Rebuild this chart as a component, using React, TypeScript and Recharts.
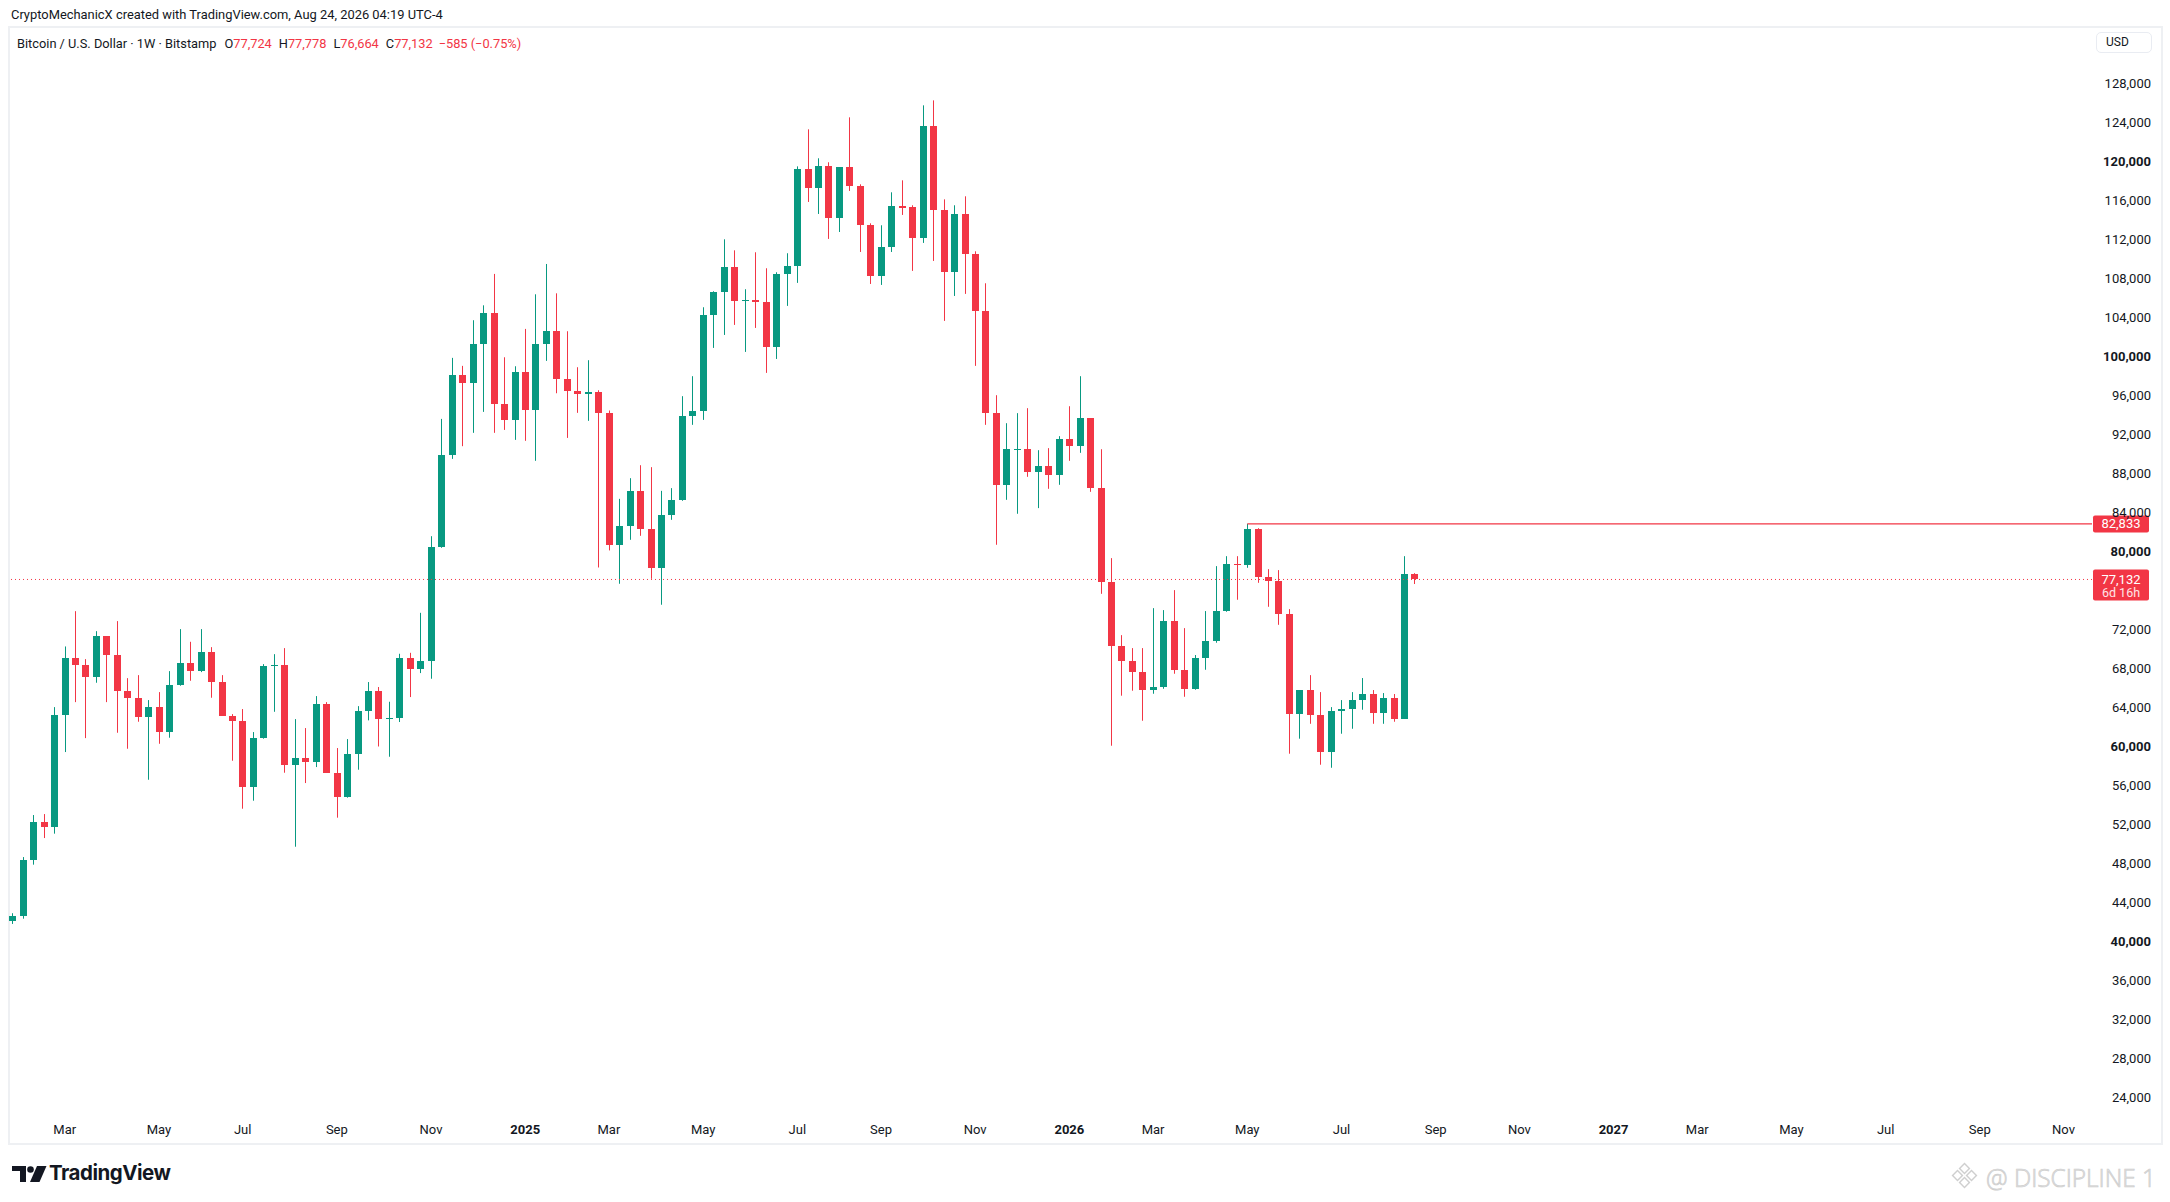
import React from 'react';
import { ComposedChart, Bar, XAxis, YAxis, ReferenceLine } from 'recharts';

const GREEN = '#089981';
const RED = '#F23645';
const TEXT = '#131722';
const FONT = 'Roboto, "Noto Sans", sans-serif';

// first weekly candle (Monday) shown
const FIRST_WEEK = '2024-01-29';

const opens = [
  42070, 42580, 48340, 52250, 51740, 63200, 69060, 68380, 67150, 71320,
  69400, 65720, 65000, 63050, 64040, 61510, 66300, 68550, 67770, 69680,
  66640, 63150, 62640, 55870, 60860, 68280, 68330, 58130, 58810, 58440,
  64350, 57310, 54850, 59190, 63600, 65690, 62850, 62950, 69070, 67970,
  68760, 80450, 89880, 98110, 97290, 101290, 104470, 95140, 93500, 98390,
  94520, 101260, 102590, 97700, 96470, 96160, 96340, 94220, 80690, 82600,
  86220, 82330, 78330, 83730, 85260, 93880, 94390, 104230, 106590, 109150,
  105700, 105840, 105600, 100980, 108430, 109250, 119200, 117280, 119500, 114210,
  119400, 117490, 113490, 108260, 111200, 115400, 115340, 112160, 123610, 115030,
  108670, 114580, 110520, 104680, 94220, 86840, 90500, 90560, 88170, 88750,
  87860, 91520, 90830, 93670, 86530, 76890, 70330, 68790, 67670, 65820,
  66090, 72860, 67870, 65920, 69070, 70810, 73890, 78700, 78640, 82290,
  77400, 76990, 73610, 63360, 65790, 63260, 59460, 63630, 63840, 64760,
  65380, 63460, 64960, 62850, 77724,
];
const highs = [
  42900, 48660, 52970, 53070, 64040, 70260, 73880, 68960, 71830, 71320,
  72860, 67010, 67320, 64760, 65580, 67730, 72040, 70740, 72040, 70190,
  67320, 63320, 63840, 61480, 68450, 69470, 70090, 62810, 61890, 65170,
  64550, 59840, 60760, 64140, 66610, 66100, 64590, 69510, 69610, 73710,
  81570, 93600, 99860, 99040, 103720, 105250, 108470, 99920, 99000, 102830,
  106380, 109490, 106480, 102590, 98900, 99620, 96540, 94460, 85400, 87520,
  88850, 88650, 86220, 86500, 95930, 97980, 105050, 106690, 112020, 110890,
  106900, 110690, 109050, 108640, 110590, 119500, 123300, 120330, 119920, 119400,
  124530, 117660, 113660, 113460, 116840, 118070, 115510, 125760, 126270, 116120,
  115510, 116430, 110790, 107510, 96030, 93160, 94190, 94700, 90390, 90600,
  91830, 94900, 97980, 93670, 90490, 79320, 71420, 70090, 70090, 74190,
  73990, 76040, 72140, 69380, 73890, 78500, 79520, 79520, 82833, 82390,
  78190, 78090, 74090, 65790, 67320, 65580, 64040, 64760, 65580, 67020,
  65790, 65480, 65380, 79520, 77778,
];
const lows = [
  41800, 42340, 47880, 50610, 51060, 59430, 64550, 60860, 66540, 64550,
  61410, 59770, 62540, 56590, 60280, 60900, 66230, 66740, 67630, 65000,
  63150, 58540, 53620, 54440, 60800, 63560, 57310, 49720, 56250, 57890,
  57310, 52700, 54750, 57620, 62680, 60000, 58950, 62510, 65070, 67530,
  66950, 80380, 89500, 90800, 92170, 94320, 92170, 92470, 91450, 91350,
  89300, 99550, 96230, 91650, 94220, 93400, 78360, 80110, 76690, 81200,
  81610, 77200, 74540, 83250, 85200, 92990, 93500, 100880, 102210, 103240,
  100470, 102930, 98320, 99750, 105190, 107550, 115850, 114620, 112060, 112770,
  116980, 110720, 107440, 107340, 110720, 114520, 108780, 111650, 109800, 103650,
  106210, 106420, 99040, 92990, 80690, 85300, 83870, 87660, 84450, 86430,
  86840, 89300, 90120, 86120, 75660, 60080, 65210, 65720, 62640, 65410,
  65920, 67460, 65100, 65820, 67870, 70640, 73820, 75050, 78330, 76790,
  74330, 72480, 59260, 60800, 62330, 58130, 57820, 61310, 61820, 63770,
  62330, 62330, 62540, 62850, 76664,
];
const closes = [
  42580, 48340, 52250, 51740, 63200, 69060, 68380, 67150, 71320, 69400,
  65720, 65000, 63050, 64040, 61510, 66300, 68550, 67770, 69680, 66640,
  63150, 62640, 55870, 60860, 68280, 68330, 58130, 58810, 58440, 64350,
  57310, 54850, 59190, 63600, 65690, 62850, 62950, 69070, 67970, 68760,
  80450, 89880, 98110, 97290, 101290, 104470, 95140, 93500, 98390, 94520,
  101260, 102590, 97700, 96470, 96160, 96340, 94220, 80690, 82600, 86220,
  82330, 78330, 83730, 85260, 93880, 94390, 104230, 106590, 109150, 105700,
  105840, 105600, 100980, 108430, 109250, 119200, 117280, 119500, 114210, 119400,
  117490, 113490, 108260, 111200, 115400, 115340, 112160, 123610, 115030, 108670,
  114580, 110520, 104680, 94220, 86840, 90500, 90560, 88170, 88750, 87860,
  91520, 90830, 93670, 86530, 76890, 70330, 68790, 67670, 65820, 66090,
  72860, 67870, 65920, 69070, 70810, 73890, 78700, 78640, 82290, 77400,
  76990, 73610, 63360, 65790, 63260, 59460, 63630, 63840, 64760, 65380,
  63460, 64960, 62850, 77724, 77132,
];

const priceTicks = [
  24000, 28000, 32000, 36000, 40000, 44000, 48000, 52000, 56000, 60000, 64000,
  68000, 72000, 80000, 84000, 88000, 92000, 96000, 100000, 104000, 108000,
  112000, 116000, 120000, 124000, 128000,
];
const boldPrices = [40000, 60000, 80000, 100000, 120000];

const monthTickDates = [
  '2024-03-01', '2024-05-01', '2024-07-01', '2024-09-01', '2024-11-01',
  '2025-01-01', '2025-03-01', '2025-05-01', '2025-07-01', '2025-09-01', '2025-11-01',
  '2026-01-01', '2026-03-01', '2026-05-01', '2026-07-01', '2026-09-01', '2026-11-01',
  '2027-01-01', '2027-03-01', '2027-05-01', '2027-07-01', '2027-09-01', '2027-11-01',
];
const monthTickLabels = [
  'Mar', 'May', 'Jul', 'Sep', 'Nov',
  '2025', 'Mar', 'May', 'Jul', 'Sep', 'Nov',
  '2026', 'Mar', 'May', 'Jul', 'Sep', 'Nov',
  '2027', 'Mar', 'May', 'Jul', 'Sep', 'Nov',
];

const RESISTANCE = 82833;
const RESISTANCE_FROM_WEEK = 118;
const LAST_PRICE = 77132;
const COUNTDOWN = '6d 16h';

const WEEK_MS = 7 * 864e5;
const t0 = Date.parse(FIRST_WEEK + 'T00:00:00Z');
const monthTickIdx = monthTickDates.map((d) =>
  Math.ceil((Date.parse(d + 'T00:00:00Z') - t0) / WEEK_MS)
);

const data = opens.map((o, i) => ({
  i,
  o,
  h: highs[i],
  l: lows[i],
  c: closes[i],
  range: [lows[i], highs[i]],
}));

const X_DOMAIN: [number, number] = [-0.33, 198.72];
const Y_DOMAIN: [number, number] = [22205, 133795];

const Candle = (props: any) => {
  const { x, y, width, height, payload } = props;
  if (x == null || y == null) return null;
  const top = Math.min(y, y + height);
  const bot = Math.max(y, y + height);
  const { o, h, l, c } = payload;
  const ppu = (bot - top) / (h - l || 1);
  const yOf = (v: number) => top + (h - v) * ppu;
  const color = c >= o ? GREEN : RED;
  const cx = Math.floor(x + width / 2) + 0.5;
  const bt = yOf(Math.max(o, c));
  const bb = yOf(Math.min(o, c));
  return (
    <g>
      <line x1={cx} x2={cx} y1={top} y2={bot} stroke={color} strokeWidth={1} />
      <rect
        x={cx - 3.5}
        y={bt}
        width={7}
        height={Math.max(1.2, bb - bt)}
        fill={color}
        shapeRendering="crispEdges"
      />
    </g>
  );
};

const PriceTick = (props: any) => {
  const { y, payload } = props;
  const v = payload.value as number;
  const bold = boldPrices.includes(v);
  return (
    <text
      x={2151}
      y={y}
      dy="0.35em"
      textAnchor="end"
      fontFamily={FONT}
      fontSize={13}
      fontWeight={bold ? 700 : 400}
      fill={TEXT}
    >
      {v.toLocaleString('en-US')}
    </text>
  );
};

const TimeTick = (props: any) => {
  const { x, payload } = props;
  const k = monthTickIdx.indexOf(payload.value);
  const label = k >= 0 ? monthTickLabels[k] : '';
  const bold = /^\d{4}$/.test(label);
  return (
    <text
      x={x}
      y={1129}
      dy="0.35em"
      textAnchor="middle"
      fontFamily={FONT}
      fontSize={13}
      fontWeight={bold ? 700 : 400}
      fill={TEXT}
    >
      {label}
    </text>
  );
};

const resistanceLabel = (props: any) => {
  const vb = props.viewBox || {};
  const bx = vb.x + vb.width + 1;
  const by = vb.y;
  return (
    <g>
      <rect x={bx} y={by - 8.5} width={56} height={17} rx={2} fill={RED} />
      <text
        x={bx + 28}
        y={by}
        dy="0.35em"
        textAnchor="middle"
        fontFamily={FONT}
        fontSize={13}
        fill="#ffffff"
      >
        {RESISTANCE.toLocaleString('en-US')}
      </text>
    </g>
  );
};

const lastPriceLabel = (props: any) => {
  const vb = props.viewBox || {};
  const bx = vb.x + vb.width + 1;
  const by = vb.y;
  return (
    <g>
      <rect x={bx} y={by - 10} width={56} height={31} rx={2} fill={RED} />
      <text
        x={bx + 28}
        y={by}
        dy="0.35em"
        textAnchor="middle"
        fontFamily={FONT}
        fontSize={13}
        fill="#ffffff"
      >
        {LAST_PRICE.toLocaleString('en-US')}
      </text>
      <text
        x={bx + 28}
        y={by + 13}
        dy="0.35em"
        textAnchor="middle"
        fontFamily={FONT}
        fontSize={12.5}
        fill="#ffe3e5"
      >
        {COUNTDOWN}
      </text>
    </g>
  );
};

export default function App() {
  return (
    <div
      style={{
        position: 'absolute',
        left: 0,
        top: 0,
        width: 2170,
        height: 1202,
        background: '#ffffff',
        fontFamily: FONT,
        color: TEXT,
        overflow: 'hidden',
      }}
    >
      <div style={{ position: 'absolute', left: 11, top: 7, fontSize: 12.9, whiteSpace: 'nowrap' }}>
        CryptoMechanicX created with TradingView.com, Aug 24, 2026 04:19 UTC-4
      </div>
      {/* pane border */}
      <div
        style={{
          position: 'absolute',
          left: 8,
          top: 26,
          width: 2151,
          height: 1115,
          border: '2px solid #eef0f3',
          boxSizing: 'content-box',
        }}
      />
      <div style={{ position: 'absolute', left: 0, top: 0 }}>
        <ComposedChart
          width={2170}
          height={1202}
          data={data}
          margin={{ top: 27, right: 10, bottom: 59, left: 9 }}
        >
          <XAxis
            dataKey="i"
            type="number"
            domain={X_DOMAIN}
            allowDataOverflow
            ticks={monthTickIdx}
            interval={0}
            height={28}
            axisLine={false}
            tickLine={false}
            tick={<TimeTick />}
          />
          <YAxis
            type="number"
            orientation="right"
            domain={Y_DOMAIN}
            allowDataOverflow
            ticks={priceTicks}
            interval={0}
            width={68}
            axisLine={false}
            tickLine={false}
            tick={<PriceTick />}
          />
          <ReferenceLine
            y={LAST_PRICE}
            stroke={RED}
            strokeWidth={1}
            strokeDasharray="1 3"
            label={lastPriceLabel}
          />
          <ReferenceLine
            segment={[
              { x: RESISTANCE_FROM_WEEK, y: RESISTANCE },
              { x: X_DOMAIN[1], y: RESISTANCE },
            ]}
            stroke={RED}
            strokeWidth={1.3}
            label={resistanceLabel}
          />
          <Bar dataKey="range" barSize={7} shape={<Candle />} isAnimationActive={false} />
        </ComposedChart>
      </div>
      {/* legend */}
      <div
        style={{
          position: 'absolute',
          left: 17,
          top: 36,
          fontSize: 12.8,
          whiteSpace: 'nowrap',
          display: 'flex',
          gap: 0,
        }}
      >
        <span>Bitcoin / U.S. Dollar · 1W · Bitstamp</span>
        <span style={{ marginLeft: 8 }}>O</span>
        <span style={{ color: RED }}>77,724</span>
        <span style={{ marginLeft: 7 }}>H</span>
        <span style={{ color: RED }}>77,778</span>
        <span style={{ marginLeft: 7 }}>L</span>
        <span style={{ color: RED }}>76,664</span>
        <span style={{ marginLeft: 7 }}>C</span>
        <span style={{ color: RED }}>77,132</span>
        <span style={{ color: RED, marginLeft: 6 }}>−585 (−0.75%)</span>
      </div>
      {/* USD button */}
      <div
        style={{
          position: 'absolute',
          left: 2096,
          top: 32,
          width: 56,
          height: 21,
          border: '1px solid #e9ecf2',
          borderRadius: 5,
          boxSizing: 'border-box',
          fontSize: 12,
          lineHeight: '19px',
          paddingLeft: 9,
        }}
      >
        USD
      </div>
      {/* TradingView logo */}
      <svg style={{ position: 'absolute', left: 0, top: 1146 }} width={200} height={45}>
        <path d="M12 20 H26 V36 H20 V25 H12 Z" fill={TEXT} />
        <circle cx={30.5} cy={23.5} r={3.3} fill={TEXT} />
        <path d="M37 20 H46.5 L39.5 36 H30 Z" fill={TEXT} />
        <text x={49} y={34} fontFamily="Inter, Roboto, sans-serif" fontWeight={700} fontSize={20.5} letterSpacing={-0.5} fill={TEXT}>
          TradingView
        </text>
      </svg>
      {/* watermark */}
      <svg style={{ position: 'absolute', left: 1940, top: 1157 }} width={230} height={45}>
        <g fill="none" stroke="#cfcfcf" strokeWidth={1.4}>
          <rect x={21} y={8} width={7} height={7} transform="rotate(45 24.5 11.5)" />
          <rect x={14} y={15} width={7} height={7} transform="rotate(45 17.5 18.5)" />
          <rect x={28} y={15} width={7} height={7} transform="rotate(45 31.5 18.5)" />
          <rect x={21} y={22} width={7} height={7} transform="rotate(45 24.5 25.5)" />
        </g>
        <text
          x={46}
          y={30}
          fontFamily='"Open Sans", "Noto Sans", sans-serif'
          fontWeight={300}
          fontSize={26}
          textLength={170}
          lengthAdjust="spacingAndGlyphs"
          fill="#e4e4e4"
          stroke="#cdcdcd"
          strokeWidth={0.7}
        >
          @ DISCIPLINE 1
        </text>
      </svg>
    </div>
  );
}
